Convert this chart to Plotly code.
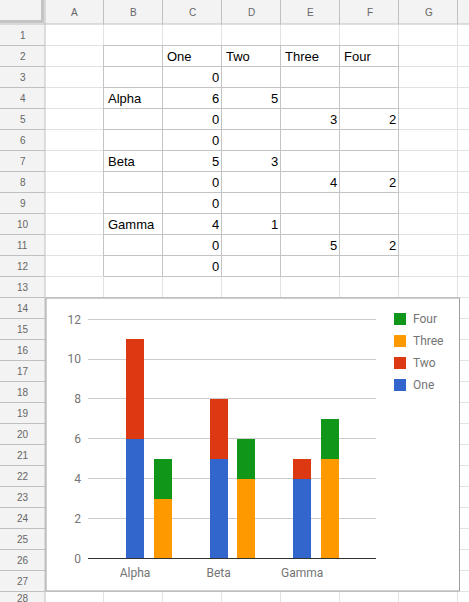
import plotly.graph_objects as go

# ---------------- data ----------------
categories = ["", "Alpha", "", "", "Beta", "", "", "Gamma", "", ""]
series_names = ["One", "Two", "Three", "Four"]
one = [0, 6, 0, 0, 5, 0, 0, 4, 0, 0]
two = [None, 5, None, None, 3, None, None, 1, None, None]
three = [None, None, 3, None, None, 4, None, None, 5, None]
four = [None, None, 2, None, None, 2, None, None, 2, None]
series_colors = ["#3366cc", "#dc3912", "#ff9900", "#109618"]
column_letters = ["A", "B", "C", "D", "E", "F", "G", "H"]
y_ticks = [0, 2, 4, 6, 8, 10, 12]

# ---------------- geometry helpers ----------------
W, H = 469, 602
def px(x):
    return x / W
def py(y):
    return 1 - y / H

HDR_H = 24
ROWHDR_W = 45
COL_W = 59
ROW_H = 21
col_left = [ROWHDR_W + i * COL_W for i in range(len(column_letters))]
def row_top(r):
    return HDR_H + (r - 1) * ROW_H

N_ROWS = 28
LIGHT = "#e2e2e2"
HEAD_LINE = "#c0c0c0"
DARK = "#c4c4c4"
CELL_FONT = dict(family="Liberation Sans, Arial", size=13, color="#000000")
HEAD_FONT = dict(family="Liberation Sans, Arial", size=10, color="#666666")
CHART_FONT = "Roboto, Arial"

shapes = []
annotations = []

def rect(x0, y0, x1, y1, fill, line=None, lw=0):
    shapes.append(dict(type="rect", xref="paper", yref="paper", layer="below",
                       x0=px(x0), x1=px(x1), y0=py(y1), y1=py(y0),
                       fillcolor=fill,
                       line=dict(color=line or fill, width=lw)))

def hline(y, x0, x1, color):
    shapes.append(dict(type="line", xref="paper", yref="paper", layer="below",
                       x0=px(x0), x1=px(x1), y0=py(y + 0.5), y1=py(y + 0.5),
                       line=dict(color=color, width=1)))

def vline(x, y0, y1, color):
    shapes.append(dict(type="line", xref="paper", yref="paper", layer="below",
                       x0=px(x - 0.5), x1=px(x - 0.5), y0=py(y0), y1=py(y1),
                       line=dict(color=color, width=1)))

# header backgrounds
rect(0, 0, W, HDR_H, "#f3f3f3")
rect(0, 0, ROWHDR_W, H, "#f3f3f3")

# light gridlines
for r in range(1, N_ROWS + 1):
    hline(row_top(r) + ROW_H, ROWHDR_W, W, LIGHT)
for x in col_left[1:]:
    vline(x, HDR_H, H, LIGHT)

# header separators
for x in col_left[1:]:
    vline(x, 0, HDR_H, HEAD_LINE)
for r in range(1, N_ROWS + 1):
    hline(row_top(r) + ROW_H, 0, ROWHDR_W, HEAD_LINE)
hline(HDR_H - 0.5, 0, W, HEAD_LINE)
vline(ROWHDR_W + 0.5, 0, H, HEAD_LINE)

# frozen corner bars
rect(41, 0, 44, 23, "#c4c4c4")
rect(0, 20, 44, 23, "#c4c4c4")

# data range borders B2:F12
for r in range(2, 13):
    hline(row_top(r), col_left[1], col_left[6], DARK)
hline(row_top(12) + ROW_H, col_left[1], col_left[6], DARK)
for c in range(1, 7):
    vline(col_left[c], row_top(2), row_top(13), DARK)

# column letters
for i, letter in enumerate(column_letters[:7]):
    annotations.append(dict(x=px(col_left[i] + COL_W / 2), y=py(HDR_H / 2 + 1),
                            xref="paper", yref="paper", text=letter,
                            showarrow=False, font=HEAD_FONT,
                            xanchor="center", yanchor="middle"))
# row numbers
for r in range(1, N_ROWS + 1):
    yc = row_top(r) + ROW_H / 2 + 1
    if r == N_ROWS:
        yc = min(yc, H - 4)
    annotations.append(dict(x=px(ROWHDR_W / 2), y=py(yc),
                            xref="paper", yref="paper", text=str(r),
                            showarrow=False, font=HEAD_FONT,
                            xanchor="center", yanchor="middle"))

def cell_text(text, col, row, align):
    yb = row_top(row) + ROW_H - 9.5
    if align == "left":
        x, anchor = col_left[col] + 3.5, "left"
    else:
        x, anchor = col_left[col] + COL_W - 3, "right"
    annotations.append(dict(x=px(x), y=py(yb), xref="paper", yref="paper",
                            text=text, showarrow=False, font=CELL_FONT,
                            xanchor=anchor, yanchor="middle",
                            borderpad=0, borderwidth=0))

# header row of table
for j, name in enumerate(series_names):
    cell_text(name, 2 + j, 2, "left")
# data rows
series_vals = [one, two, three, four]
for i, cat in enumerate(categories):
    row = 3 + i
    if cat:
        cell_text(cat, 1, row, "left")
    for j, vals in enumerate(series_vals):
        if vals[i] is not None:
            cell_text(str(vals[i]), 2 + j, row, "right")

# chart box
CH_X0, CH_Y0, CH_X1, CH_Y1 = 46, 298, 459.5, 591
rect(CH_X0, CH_Y0, CH_X1, CH_Y1, "#ffffff", line="#9e9e9e", lw=1)

# manual legend
for k, j in enumerate(reversed(range(len(series_names)))):
    cy = 319 + k * 22
    shapes.append(dict(type="rect", xref="paper", yref="paper", layer="above",
                       x0=px(394), x1=px(406), y0=py(cy + 6), y1=py(cy - 6),
                       fillcolor=series_colors[j], line=dict(width=0)))
    annotations.append(dict(x=px(413), y=py(cy), xref="paper", yref="paper",
                            text=series_names[j], showarrow=False,
                            font=dict(family=CHART_FONT, size=12, color="#757575"),
                            xanchor="left", yanchor="middle",
                            borderpad=0, borderwidth=0))

# ---------------- chart ----------------
xpos = list(range(len(categories)))
fig = go.Figure()
for name, vals, color in zip(series_names, series_vals, series_colors):
    fig.add_trace(go.Bar(x=xpos, y=vals, name=name, marker=dict(color=color, line=dict(width=0)),
                         showlegend=False, hoverinfo="skip"))

Y0_PX, Y12_PX = 558.3, 319.3
unit = (Y0_PX - Y12_PX) / 12
TOP_PX = 317.3
x_left_px, x_right_px = 88, 376

tickvals = [i for i, c in enumerate(categories) if c]
ticktext = [c for c in categories if c]

fig.update_layout(
    width=W, height=H,
    margin=dict(l=0, r=0, t=0, b=0, pad=0, autoexpand=False),
    paper_bgcolor="#ffffff", plot_bgcolor="rgba(0,0,0,0)",
    barmode="stack", bargap=0.354,
    showlegend=False,
    shapes=shapes, annotations=annotations,
    xaxis=dict(domain=[px(x_left_px), px(x_right_px)], range=[-0.69, 9.65],
               tickvals=tickvals, ticktext=ticktext, showgrid=False,
               showline=True, linecolor="#333333", linewidth=1,
               zeroline=False, ticks="", ticklabelstandoff=3, automargin=False,
               tickfont=dict(family=CHART_FONT, size=12, color="#757575"),
               fixedrange=True),
    yaxis=dict(domain=[py(Y0_PX), py(TOP_PX)], range=[0, (Y0_PX - TOP_PX) / unit],
               tickvals=y_ticks, showgrid=True, gridcolor="#cccccc", gridwidth=1,
               zeroline=False, showline=False, ticks="", ticklabelstandoff=6,
               automargin=False,
               tickfont=dict(family=CHART_FONT, size=12, color="#757575"),
               fixedrange=True),
)

fig.write_html("out.html", config={"displayModeBar": False},
               post_script="document.body.style.margin='0';document.body.style.overflow='hidden';")
